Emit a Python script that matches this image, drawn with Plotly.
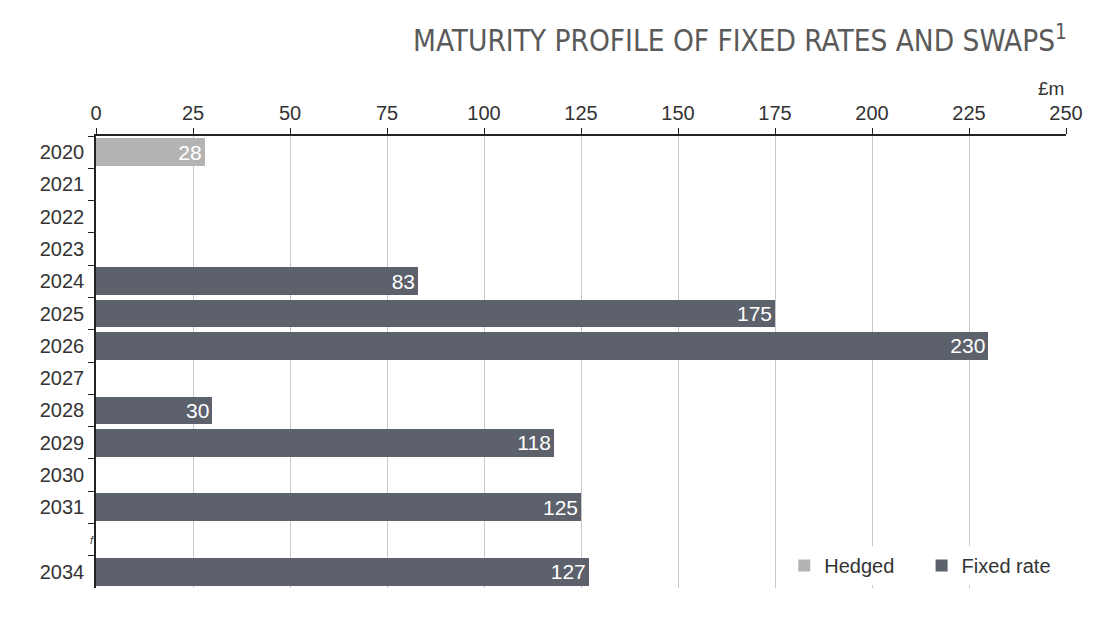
import plotly.graph_objects as go

years = ["2020", "2021", "2022", "2023", "2024", "2025", "2026", "2027",
         "2028", "2029", "2030", "2031", " ", "2034"]
hedged = [28, None, None, None, None, None, None, None, None, None, None, None, None, None]
fixed_rate = [None, None, None, None, 83, 175, 230, None, 30, 118, None, 125, None, 127]
x_ticks = [0, 25, 50, 75, 100, 125, 150, 175, 200, 225, 250]

HEDGED_C = "#b4b4b4"
FIXED_C = "#5c616b"
TEXT_C = "#333333"
FONT = "Liberation Sans"

def labels(vals):
    return [("" if v is None else str(v)) for v in vals]

common_text = dict(textposition="inside", insidetextanchor="end", textangle=0,
                   constraintext="none", cliponaxis=False)

fig = go.Figure()
fig.add_trace(go.Bar(
    y=years, x=hedged, orientation="h", name="Hedged\u00a0\u00a0\u00a0\u00a0",
    marker=dict(color=HEDGED_C, line=dict(width=0)),
    text=labels(hedged), textfont=dict(color="white", size=21, family=FONT),
    **common_text,
))
fig.add_trace(go.Bar(
    y=years, x=fixed_rate, orientation="h", name="Fixed rate",
    marker=dict(color=FIXED_C, line=dict(width=0)),
    text=labels(fixed_rate), textfont=dict(color="white", size=21, family=FONT),
    **common_text,
))

fig.update_layout(
    width=1100, height=631,
    margin=dict(l=88, r=42, t=128, b=51),
    paper_bgcolor="white", plot_bgcolor="white",
    barmode="stack", bargap=0.14,
    font=dict(family=FONT, color=TEXT_C, size=19),
    showlegend=True,
    legend=dict(orientation="h", x=0.99, xanchor="right", y=0.05, yanchor="middle",
                bgcolor="white", font=dict(size=20, color=TEXT_C),
                itemwidth=30, traceorder="normal"),
)
fig.update_xaxes(
    side="top", range=[0, 250], tickvals=x_ticks,
    showgrid=True, gridcolor="#c8c8c8", gridwidth=1,
    showline=True, linecolor="#222222", linewidth=1.5,
    ticks="outside", ticklen=6, tickcolor="#222222",
    tickfont=dict(size=20, color=TEXT_C), zeroline=False, fixedrange=True,
)
fig.update_yaxes(
    type="category", categoryorder="array", categoryarray=years,
    autorange="reversed",
    showline=True, linecolor="#222222", linewidth=1.5,
    ticks="outside", tickson="boundaries", ticklen=6, tickcolor="#222222",
    ticklabelstandoff=6,
    tickfont=dict(size=20, color=TEXT_C), showgrid=False,
)

fig.add_annotation(
    text="MATURITY PROFILE OF FIXED RATES AND SWAPS<sup>1</sup>",
    xref="paper", yref="paper", x=1.003, y=1.215, xanchor="right", yanchor="middle",
    showarrow=False, font=dict(family="DejaVu Sans Condensed", size=29.5, color="#5a5a5a"),
)
fig.add_annotation(
    text="£m", xref="paper", yref="paper", x=1.0, y=1.106, xanchor="right", yanchor="middle",
    showarrow=False, font=dict(size=19, color=TEXT_C),
)
fig.add_annotation(
    text="<i>f</i>", xref="paper", yref="y", x=-0.004, y=" ", xanchor="center", yanchor="middle",
    showarrow=False, font=dict(size=11, color="#444444"),
)

fig.write_html("out.html")
